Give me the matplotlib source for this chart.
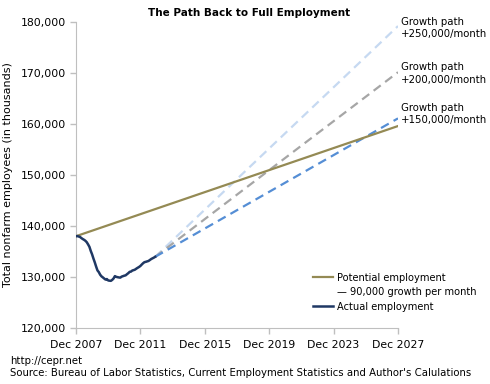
import numpy as np
import matplotlib
matplotlib.use("Agg")
import matplotlib.pyplot as plt
from matplotlib.lines import Line2D
from matplotlib.ticker import FuncFormatter

# months since Dec 2007
tick_months = [0, 48, 96, 144, 192, 240]
tick_labels = ["Dec 2007", "Dec 2011", "Dec 2015", "Dec 2019", "Dec 2023", "Dec 2027"]

# actual nonfarm payrolls (thousands), Dec 2007 - Nov 2012
actual = [
    138000,
    138023, 137939, 137851, 137636, 137449, 137296, 137099, 136825, 136398, 135918, 135113, 134437,
    133617, 132871, 132045, 131293, 130956, 130456, 130127, 129924, 129703, 129497, 129597, 129320,
    129281, 129246, 129438, 129715, 130173, 130029, 129963, 129912, 129875, 130071, 130164, 130258,
    130328, 130548, 130758, 131009, 131063, 131272, 131349, 131453, 131643, 131812, 131969, 132166,
    132441, 132700, 132905, 132973, 133060, 133141, 133322, 133514, 133656, 133793, 133954,
]
potential_start = 138000
potential_growth = 90          # per month
path_growth = [250, 200, 150]  # per month
path_colors = ["#c6d9f1", "#a6a6a6", "#558ed5"]
path_labels = ["Growth path\n+250,000/month", "Growth path\n+200,000/month",
               "Growth path\n+150,000/month"]
path_offsets = [(2, -1.5), (2, -0.8), (2, 3)]
end_month = 240

plt.rcParams["font.family"] = ["DejaVu Sans"]
fig = plt.figure(figsize=(4.9, 3.84), dpi=100)
ax = fig.add_axes([76 / 490, 1 - 328 / 384, 322 / 490, 306 / 384])

months_all = np.arange(end_month + 1)
potential = potential_start + potential_growth * months_all

m_act = np.arange(len(actual))
last_m = m_act[-1]
m_path = np.arange(last_m, end_month + 1)

for g, c in zip(path_growth, path_colors):
    ax.plot(m_path, actual[-1] + g * (m_path - last_m), color=c, lw=1.6,
            dashes=(4, 2.5), zorder=2)
ax.plot(months_all, potential, color="#948a54", lw=1.6, zorder=3)
ax.plot(m_act, actual, color="#1f3864", lw=1.8, zorder=4)

ax.set_xlim(0, end_month)
ax.set_ylim(120000, 180000)
ax.set_yticks(range(120000, 180001, 10000))
ax.yaxis.set_major_formatter(FuncFormatter(lambda v, p: f"{int(v):,}"))
ax.set_xticks(tick_months)
ax.set_xticklabels(tick_labels)
for s in ["top", "right"]:
    ax.spines[s].set_visible(False)
for s in ["left", "bottom"]:
    ax.spines[s].set_color("#bfbfbf")
ax.tick_params(colors="#bfbfbf", labelcolor="black", labelsize=7.8, length=4, width=1)
ax.tick_params(axis="x", pad=5)
ax.set_ylabel("Total nonfarm employees (in thousands)", fontsize=8, labelpad=5)

# growth path labels at the right end
for g, lab, off in zip(path_growth, path_labels, path_offsets):
    yv = actual[-1] + g * (end_month - last_m)
    ax.annotate(lab, (end_month, yv), xytext=off, textcoords="offset points",
                fontsize=7.3, va="center", ha="left", annotation_clip=False,
                linespacing=1.3)

handles = [Line2D([], [], color="#948a54", lw=1.6),
           Line2D([], [], color="none"),
           Line2D([], [], color="#1f3864", lw=1.8)]
labels = ["Potential employment", "\u2014 90,000 growth per month", "Actual employment"]
ax.legend(handles, labels, loc="upper left", bbox_to_anchor=((313 - 76) / 322, 0.18),
          frameon=False, fontsize=7.1, handlelength=2.0, handletextpad=0.45,
          labelspacing=0.45, borderaxespad=0, borderpad=0)

fig.text(249 / 490, 1 - 13 / 384, "The Path Back to Full Employment", ha="center",
         va="center", fontsize=7.5, fontweight="bold")
fig.text(10 / 490, 1 - 361 / 384, "http://cepr.net", fontsize=7.3, va="center")
fig.text(10 / 490, 1 - 373 / 384,
         "Source: Bureau of Labor Statistics, Current Employment Statistics and Author's Calulations",
         fontsize=7.3, va="center")

fig.savefig("out.png", dpi=100, facecolor="white")
